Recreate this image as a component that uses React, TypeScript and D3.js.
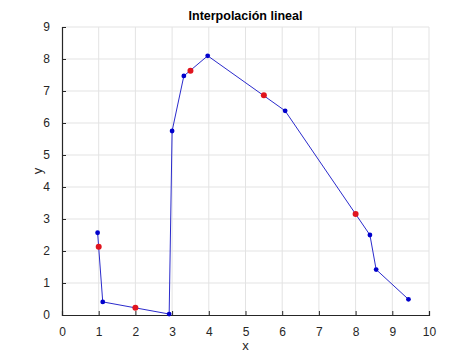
import React, { useRef, useEffect } from 'react';
import * as d3 from 'd3';

// original points (blue)
const dataX = [0.97, 1.11, 2.92, 3.0, 3.32, 3.97, 6.08, 8.39, 8.56, 9.44];
const dataY = [2.57, 0.41, 0.03, 5.75, 7.47, 8.1, 6.38, 2.5, 1.42, 0.49];

// interpolated points (red)
const interpX = [1, 2, 3.5, 5.5, 8];
const interpY = [2.13, 0.23, 7.63, 6.87, 3.16];

const xTicks = [0, 1, 2, 3, 4, 5, 6, 7, 8, 9, 10];
const yTicks = [0, 1, 2, 3, 4, 5, 6, 7, 8, 9];

const title = 'Interpolación lineal';

const App: React.FC = () => {
  const svgRef = useRef<SVGSVGElement>(null);

  useEffect(() => {
    if (!svgRef.current) return;
    const width = 474;
    const height = 355;
    const margin = { top: 27, right: 45, bottom: 40, left: 62 };

    d3.select(svgRef.current).selectAll('*').remove();
    const svg = d3.select(svgRef.current).attr('width', width).attr('height', height);

    const chartW = width - margin.left - margin.right;
    const chartH = height - margin.top - margin.bottom;

    const x = d3.scaleLinear().domain([0, 10]).range([0, chartW]);
    const y = d3.scaleLinear().domain([0, 9]).range([chartH, 0]);

    const g = svg.append('g').attr('transform', `translate(${margin.left}, ${margin.top})`);

    // grid
    g.append('g')
      .selectAll('line')
      .data(xTicks.slice(1))
      .enter()
      .append('line')
      .attr('x1', (d) => x(d))
      .attr('x2', (d) => x(d))
      .attr('y1', 0)
      .attr('y2', chartH)
      .attr('stroke', '#e3e3e3')
      .attr('stroke-width', 1);
    g.append('g')
      .selectAll('line')
      .data(yTicks.slice(1))
      .enter()
      .append('line')
      .attr('x1', 0)
      .attr('x2', chartW)
      .attr('y1', (d) => y(d))
      .attr('y2', (d) => y(d))
      .attr('stroke', '#e3e3e3')
      .attr('stroke-width', 1);

    // axes (ticks inward like matlab)
    const xAxis = g
      .append('g')
      .attr('transform', `translate(0, ${chartH})`)
      .call(d3.axisBottom(x).tickValues(xTicks).tickSize(-4).tickPadding(12).tickFormat(d3.format('d')));
    const yAxis = g
      .append('g')
      .call(d3.axisLeft(y).tickValues(yTicks).tickSize(-4).tickPadding(12).tickFormat(d3.format('d')));

    [xAxis, yAxis].forEach((ax) => {
      ax.select('.domain').attr('stroke', '#262626').attr('stroke-width', 1.2);
      ax.selectAll('.tick line').attr('stroke', '#262626');
      ax.selectAll('.tick text')
        .attr('fill', '#262626')
        .style('font-family', '"Liberation Sans", Arial, sans-serif')
        .style('font-size', '12px');
    });

    // line through original points
    const pts = dataX.map((d, i) => [d, dataY[i]] as [number, number]);
    const line = d3
      .line<[number, number]>()
      .x((d) => x(d[0]))
      .y((d) => y(d[1]));
    g.append('path')
      .datum(pts)
      .attr('d', line)
      .attr('fill', 'none')
      .attr('stroke', '#2b2bcc')
      .attr('stroke-width', 1);

    g.selectAll('.pt')
      .data(pts)
      .enter()
      .append('circle')
      .attr('class', 'pt')
      .attr('cx', (d) => x(d[0]))
      .attr('cy', (d) => y(d[1]))
      .attr('r', 2.4)
      .attr('fill', '#0000cc');

    g.selectAll('.ipt')
      .data(interpX.map((d, i) => [d, interpY[i]]))
      .enter()
      .append('circle')
      .attr('class', 'ipt')
      .attr('cx', (d) => x(d[0]))
      .attr('cy', (d) => y(d[1]))
      .attr('r', 3)
      .attr('fill', '#e0141e');

    // title & labels
    svg
      .append('text')
      .attr('x', margin.left + chartW / 2)
      .attr('y', 20)
      .attr('text-anchor', 'middle')
      .style('font-family', '"Liberation Sans", Arial, sans-serif')
      .style('font-size', '12.5px')
      .style('font-weight', 'bold')
      .attr('fill', '#000')
      .text(title);

    svg
      .append('text')
      .attr('x', margin.left + chartW / 2)
      .attr('y', 350)
      .attr('text-anchor', 'middle')
      .style('font-family', '"Liberation Sans", Arial, sans-serif')
      .style('font-size', '13px')
      .attr('fill', '#262626')
      .text('x');

    svg
      .append('text')
      .attr('transform', `translate(42, ${margin.top + chartH / 2}) rotate(-90)`)
      .attr('text-anchor', 'middle')
      .style('font-family', '"Liberation Sans", Arial, sans-serif')
      .style('font-size', '13px')
      .attr('fill', '#262626')
      .text('y');
  }, []);

  return (
    <div style={{ position: 'absolute', left: 0, top: 0 }}>
      <svg ref={svgRef} style={{ display: 'block' }} />
    </div>
  );
};

export default App;
